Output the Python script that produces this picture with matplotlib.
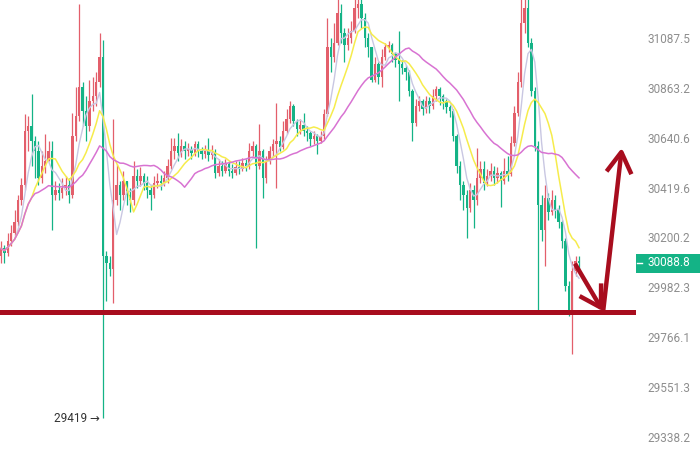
import numpy as np
import pandas as pd
import matplotlib
matplotlib.use("Agg")
import matplotlib.pyplot as plt
import matplotlib.transforms as mtransforms
from matplotlib.patches import Rectangle
from matplotlib.ticker import FixedLocator, NullLocator, FixedFormatter

# ---------------- data ----------------
first_open = 30121
closes = [
    30152, 30134, 30187, 30222, 30266, 30363, 30429, 30671, 30693, 30627,
    30583, 30460, 30517, 30539, 30583, 30385, 30407, 30398, 30416, 30429,
    30385, 30649, 30737, 30869, 30759, 30693, 30803, 30825, 30891, 31001,
    30121, 30090, 30064, 30363, 30429, 30385, 30451, 30385, 30363, 30473,
    30451, 30469, 30442, 30407, 30385, 30442, 30451, 30438, 30460, 30517,
    30583, 30605, 30574, 30605, 30583, 30592, 30574, 30614, 30583, 30570,
    30583, 30565, 30574, 30486, 30517, 30495, 30526, 30495, 30486, 30513,
    30504, 30530, 30517, 30583, 30605, 30517, 30583, 30460, 30539, 30583,
    30614, 30627, 30601, 30671, 30724, 30781, 30715, 30680, 30697, 30671,
    30662, 30636, 30649, 30627, 30649, 30746, 31045, 31001, 31067, 31199,
    31111, 31058, 31089, 31120, 31221, 31243, 31177, 31089, 31045, 30900,
    30970, 30913, 31001, 31045, 31058, 31014, 30988, 30970, 30953, 30935,
    30847, 30706, 30781, 30803, 30768, 30803, 30781, 30825, 30856, 30825,
    30803, 30777, 30759, 30649, 30517, 30429, 30385, 30328, 30407, 30363,
    30460, 30504, 30442, 30473, 30495, 30460, 30486, 30451, 30495, 30482,
    30618, 30750, 30891, 31155, 31221, 31067, 30847, 30605, 30341, 30231,
    30372, 30310, 30363, 30319, 30266, 30187, 29989, 29879, 30055, 30099,
    30088.8,
]
highs = [
    30187, 30169, 30222, 30253, 30319, 30385, 30460, 30746, 30737, 30834,
    30649, 30627, 30583, 30658, 30627, 30627, 30451, 30442, 30460, 30473,
    30460, 30750, 30869, 31243, 30891, 30825, 30900, 30913, 30935, 31111,
    31080, 30143, 30121, 30724, 30526, 30451, 30495, 30451, 30416, 30539,
    30504, 30513, 30486, 30473, 30429, 30473, 30486, 30477, 30495, 30548,
    30640, 30640, 30662, 30636, 30627, 30618, 30605, 30627, 30627, 30601,
    30609, 30640, 30609, 30592, 30548, 30539, 30548, 30539, 30526, 30539,
    30539, 30552, 30548, 30618, 30627, 30614, 30702, 30592, 30561, 30605,
    30636, 30794, 30649, 30715, 30768, 30803, 30790, 30724, 30724, 30750,
    30693, 30671, 30671, 30658, 30671, 30768, 31177, 31089, 31155, 31331,
    31243, 31133, 31133, 31164, 31331, 31331, 31287, 31199, 31111, 31045,
    31001, 30979, 31036, 31067, 31076, 31067, 31023, 31120, 30988, 30966,
    30944, 30856, 30812, 30825, 30812, 30825, 30821, 30856, 30873, 30865,
    30838, 30812, 30785, 30768, 30658, 30539, 30451, 30407, 30438, 30429,
    30596, 30539, 30539, 30504, 30530, 30517, 30513, 30495, 30552, 30561,
    30649, 30781, 30935, 31287, 31331, 31287, 31089, 30869, 30627, 30385,
    30429, 30398, 30407, 30385, 30341, 30275, 30196, 30011, 30099, 30121,
    30121,
]
lows = [
    30090, 30090, 30117, 30165, 30205, 30249, 30341, 30407, 30583, 30517,
    30460, 30429, 30442, 30486, 30539, 30231, 30363, 30363, 30372, 30385,
    30350, 30372, 30627, 30715, 30693, 30627, 30671, 30759, 30781, 30869,
    29419, 29923, 30033, 29914, 30341, 30319, 30363, 30341, 30310, 30341,
    30416, 30425, 30407, 30372, 30319, 30372, 30416, 30407, 30425, 30442,
    30504, 30548, 30539, 30557, 30548, 30561, 30548, 30561, 30557, 30548,
    30552, 30539, 30548, 30460, 30469, 30469, 30486, 30473, 30460, 30477,
    30482, 30495, 30491, 30504, 30561, 30156, 30504, 30372, 30442, 30526,
    30561, 30420, 30583, 30592, 30658, 30706, 30693, 30649, 30658, 30649,
    30627, 30605, 30614, 30570, 30618, 30636, 30737, 30935, 30979, 31058,
    31067, 30979, 31032, 31067, 31111, 31177, 31133, 31045, 31001, 30891,
    30891, 30882, 30865, 30988, 31023, 30979, 30957, 30803, 30926, 30900,
    30825, 30627, 30693, 30759, 30741, 30750, 30750, 30768, 30803, 30785,
    30768, 30750, 30733, 30627, 30486, 30363, 30319, 30196, 30310, 30240,
    30341, 30442, 30407, 30425, 30451, 30429, 30438, 30332, 30434, 30451,
    30469, 30605, 30737, 30869, 31111, 31045, 30825, 30583, 29879, 30187,
    30077, 30275, 30297, 30284, 30240, 30152, 29967, 29857, 29694, 30033,
    30064,
]
support_level = 29877
arrow_down = [(168.8, 30086), (177.1, 29878)]
arrow_up = [(177.1, 29878), (182.6, 30596)]
low_label = 29419
low_index = 30
last_price = 30088.8
tick_values = [31087.5, 30863.2, 30640.6, 30419.6, 30200.2,
               29982.3, 29766.1, 29551.3, 29338.2]
tick_labels = ["31087.5", "30863.2", "30640.6", "30419.6", "30200.2",
               "29982.3", "29766.1", "29551.3", "29338.2"]

# ---------------- styling ----------------
UP = "#e35f6b"     # red = rising
DOWN = "#14b386"   # green = falling
DARK_RED = "#a80d1e"

plt.rcParams['font.family'] = ['Roboto', 'DejaVu Sans']

fig = plt.figure(figsize=(7, 4.5), dpi=100)
ax = fig.add_axes([0, 0, 636 / 700, 1])
ax.set_facecolor("white")
fig.patch.set_facecolor("white")

n = len(closes)
idx = np.arange(n)
opens = np.array([first_open] + closes[:-1], dtype=float)
c = np.array(closes, dtype=float)
h = np.array(highs, dtype=float)
l = np.array(lows, dtype=float)
up = c >= opens
colors = np.where(up, UP, DOWN)

ax.set_yscale("log")

# wicks
ax.vlines(idx, l, h, colors=colors, linewidth=0.9, zorder=2)
# bodies
bottoms = np.minimum(opens, c)
heights = np.maximum(np.abs(c - opens), 1.5)
ax.bar(idx, heights, bottom=bottoms, width=0.72, color=colors,
       linewidth=0, zorder=3)

# moving averages
s = pd.Series(c)
ma_fast = s.rolling(5, min_periods=1).mean()
ma_mid = s.rolling(10, min_periods=1).mean()
ma_slow = s.rolling(25, min_periods=1).mean()
ax.plot(idx, ma_fast, color="#c9c7e2", linewidth=1.0, zorder=4)
ax.plot(idx, ma_mid, color="#f6ec4c", linewidth=1.1, zorder=5)
ax.plot(idx, ma_slow, color="#d873d2", linewidth=1.1, zorder=5)

# support line
ax.axhline(support_level, color=DARK_RED, linewidth=3.6, zorder=6)

# arrows
for (p0, p1) in (arrow_down, arrow_up):
    ax.annotate("", xy=p1, xytext=p0,
                arrowprops=dict(arrowstyle="->,head_length=0.75,head_width=0.45",
                                color=DARK_RED, lw=3.2, mutation_scale=20,
                                shrinkA=0, shrinkB=0, capstyle="butt"),
                zorder=7)

# low label
ax.text(low_index - 0.9, low_label, "29419 →", ha="right", va="center",
        fontsize=8.5, color="#333333", zorder=8)

# limits
ax.set_xlim(-1 / 3.4, 635 / 3.4)
ax.set_ylim(29282.9, 31259.4)

# y ticks on the right
ax.yaxis.tick_right()
ax.yaxis.set_major_locator(FixedLocator(tick_values))
ax.yaxis.set_major_formatter(FixedFormatter(tick_labels))
ax.yaxis.set_minor_locator(NullLocator())
ax.tick_params(axis="y", length=0, pad=8, labelsize=8.5, labelcolor="#8e8e8e")
ax.set_xticks([])
for sp in ax.spines.values():
    sp.set_visible(False)

# last price tag
trans = mtransforms.blended_transform_factory(ax.transAxes, ax.transData)
ax.add_patch(Rectangle((1.0, 30045), 64 / 636, 83, transform=trans,
                       facecolor=DOWN, edgecolor="none", clip_on=False, zorder=9))
ax.plot([1.0 + 1 / 636, 1.0 + 6 / 636], [last_price, last_price], transform=trans,
        color="white", linewidth=1.0, clip_on=False, zorder=10)
ax.text(1.0 + 11 / 636, last_price, "30088.8", transform=trans, ha="left",
        va="center", fontsize=8.5, color="white", zorder=10, clip_on=False)

fig.savefig("out.png", dpi=100, facecolor="white")
